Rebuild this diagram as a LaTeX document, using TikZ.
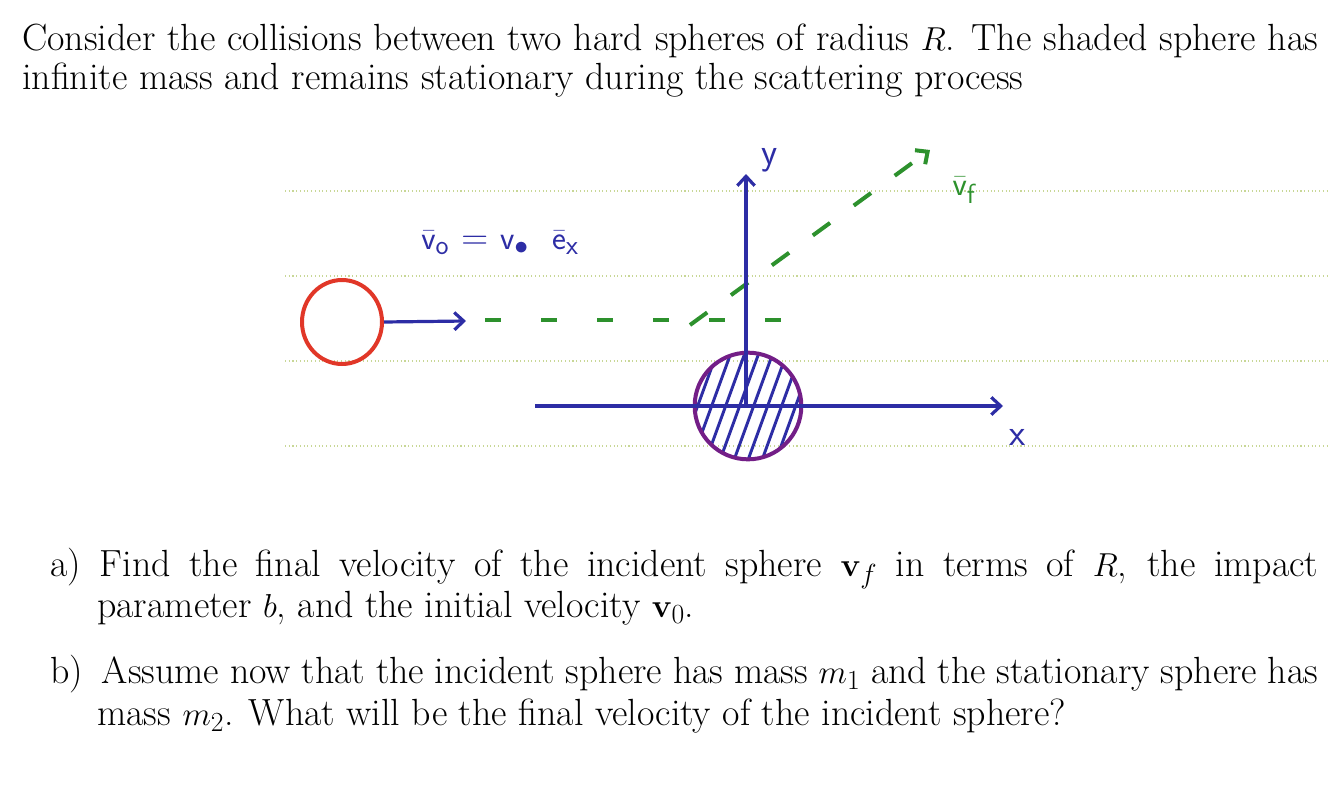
\documentclass[tikz,border=0pt]{standalone}
\usepackage{amsmath}
\usetikzlibrary{arrows.meta,shapes.geometric}
\definecolor{hblue}{RGB}{45,45,165}
\definecolor{hred}{RGB}{225,55,40}
\definecolor{hgreen}{RGB}{45,145,45}
\definecolor{hpurple}{RGB}{115,30,135}
\definecolor{guide}{RGB}{200,215,150}
\tikzset{txt/.style={anchor=base west,inner sep=0pt,font=\fontsize{28.4}{32}\selectfont},
hand/.style={font=\sffamily\fontsize{28}{32}\selectfont,inner sep=0pt},
ax/.style={hblue,line width=2.4pt,-{Straight Barb[length=7pt,width=13pt]}}}
\begin{document}
\begin{tikzpicture}[x=0.75pt,y=-0.75pt]
\useasboundingbox (0,0) rectangle (1339,789);
% text
\node[txt] (l1) at (22,50) {\makebox[972pt][s]{Consider the collisions between two hard spheres of radius $R$. The shaded sphere has}};
\node[txt] (l2) at (22,89) {infinite mass and remains stationary during the scattering process};
\node[txt] (a1) at (50,576) {\makebox[951pt][s]{a)\enspace Find the final velocity of the incident sphere $\mathbf{v}_f$ in terms of $R$, the impact}};
\node[txt] (a2) at (97,617) {parameter $b$, and the initial velocity $\mathbf{v}_0$.};
\node[txt] (b1) at (50,683) {\makebox[951pt][s]{b)\enspace Assume now that the incident sphere has mass $m_1$ and the stationary sphere has}};
\node[txt] (b2) at (97,725) {mass $m_2$. What will be the final velocity of the incident sphere?};
% guides
\foreach \yy in {191,276,361,446}
  \draw[guide,line width=0.8pt,dotted] (285,\yy) -- (1330,\yy);
% red sphere
\node[draw=hred,line width=3pt,ellipse,minimum width=60pt,minimum height=63pt,inner sep=0pt] (red) at (342,322) {};
\coordinate (arend) at (466,321);
\draw[ax] (red.east) -- (arend);
% green path
\coordinate (g0) at (485,320);
\coordinate (hit) at (790,320);
\coordinate (kink) at (690,325);
\coordinate (gf) at (930,150);
\draw[hgreen,line width=3pt,dash pattern=on 12pt off 30pt] (g0) -- (hit);
\draw[hgreen,line width=3pt,dash pattern=on 16pt off 22pt,-{Straight Barb[length=7pt,width=13pt]}] (kink) -- (gf);
% purple sphere
\begin{scope}
\clip (748,406) circle (52);
\foreach \k in {-50,-36,...,60}
  \draw[hblue,line width=2.2pt] (748+\k-20,460) -- (748+\k+20,350);
\end{scope}
\node[draw=hpurple,line width=3pt,circle,minimum size=80pt,inner sep=0pt] (stat) at (748,406) {};
% axes
\coordinate (xs) at (535,406);
\coordinate (xe) at (1003,406);
\coordinate (ys) at (746,406);
\coordinate (ye) at (746,174);
\draw[ax] (xs) -- (xe);
\draw[ax] (ys) -- (ye);
\node[hand,hblue] (xl) at (1018,437) {x};
\node[hand,hblue] (yl) at (770,160) {y};
\node[hand,hblue] (v0) at (500,243) {$\bar{\mathsf{v}}_{\mathsf{o}}$ = $\mathsf{v}_{\bullet}$\ \ $\bar{\mathsf{e}}_{\mathsf{x}}$};
\node[hand,hgreen] (vf) at (965,190) {$\bar{\mathsf{v}}_{\mathsf{f}}$};
\end{tikzpicture}
\end{document}
